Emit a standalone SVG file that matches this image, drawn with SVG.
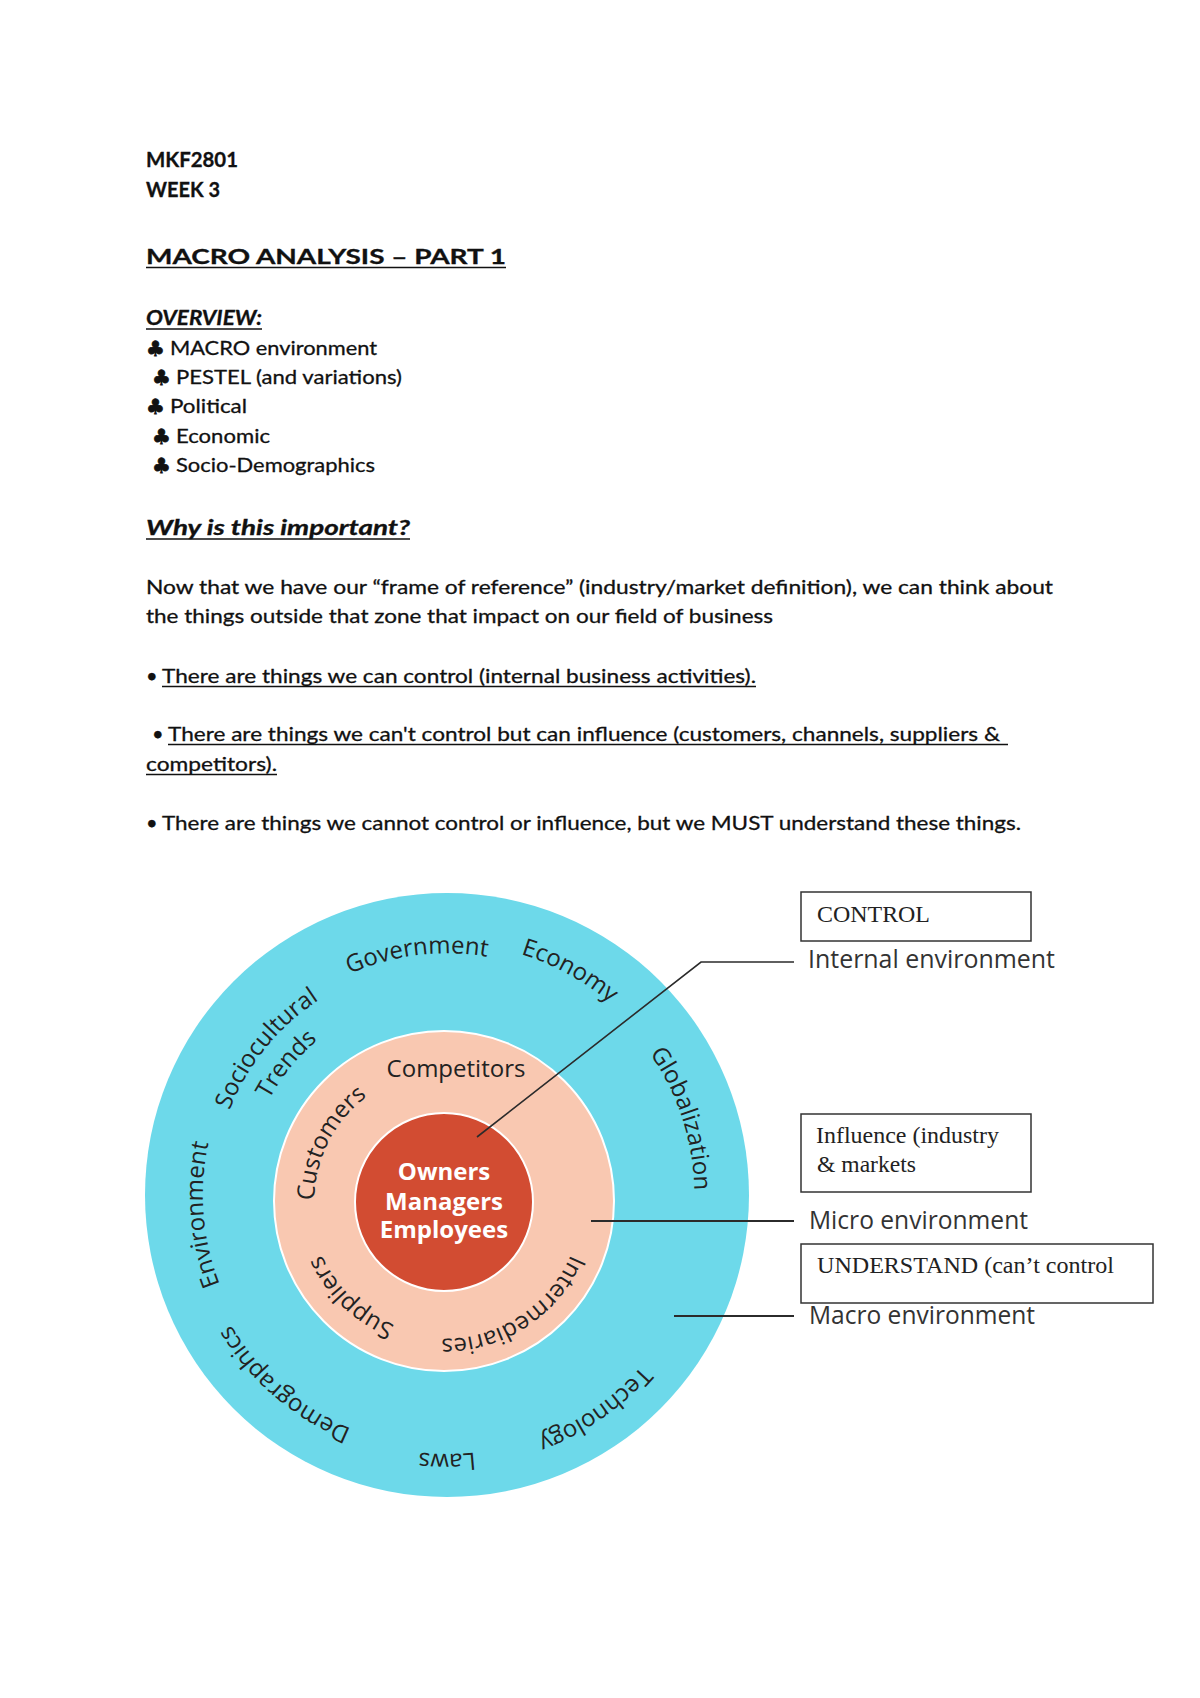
<svg xmlns="http://www.w3.org/2000/svg" width="1200" height="1698" viewBox="0 0 1200 1698">
<style>
.b{font-family:Lato,"Liberation Sans",sans-serif;font-size:20px;fill:#111;stroke:#111;stroke-width:0.3}
.bb{font-weight:bold}
.it{font-style:italic}
.club{font-family:"DejaVu Sans",sans-serif;font-size:21px;fill:#111;stroke:#111;stroke-width:0.8}
.ring{font-family:"Open Sans",sans-serif;font-size:24px;fill:#222}
.core{font-family:"Open Sans",sans-serif;font-size:24px;font-weight:bold;fill:#fff;text-anchor:middle}
.lbl{font-family:"Open Sans",sans-serif;font-size:25px;fill:#333}
.ser{font-family:"Liberation Serif",serif;font-size:23px;fill:#222}
.box{fill:#fff;stroke:#333;stroke-width:1.5}
.ul{stroke:#111;stroke-width:1.6}
.con{fill:none;stroke:#2b2b2b}
</style>
<defs>
<path id="pGov" d="M205.2,1203.9 A242,242 0 0 1 683.6,1144.3"/>
<path id="pEco" d="M237.3,1055.2 A252,252 0 0 1 677.7,1296.3"/>
<path id="pGlo" d="M391.4,954.3 A247,247 0 0 1 543.5,1422.4"/>
<path id="pTec" d="M672.2,1067.1 A259,259 0 0 1 247.4,1360.1"/>
<path id="pLaw" d="M705,1217.6 A259,259 0 0 1 189,1217.6"/>
<path id="pDem" d="M621.9,1374.2 A250,250 0 0 1 244,1049.1"/>
<path id="pEnv" d="M445.3,1439 A244,244 0 0 1 406.3,954.4"/>
<path id="pSoc" d="M285.1,1362.6 A233,233 0 0 1 577.3,1001.8"/>
<path id="pTre" d="M306.2,1339.8 A202,202 0 0 1 560.5,1027.9"/>
<path id="pCus" d="M384.5,1317.7 A131,131 0 0 1 503.5,1084.3"/>
<path id="pSup" d="M531.9,1302.1 A134,134 0 0 1 339.9,1116.7"/>
<path id="pInt" d="M565.8,1136.2 A138,138 0 0 1 335.3,1286"/>
</defs>
<rect width="1200" height="1698" fill="#fff"/>

<g id="header">
<text class="b bb" x="146" y="167" textLength="92" lengthAdjust="spacingAndGlyphs">MKF2801</text>
<text class="b bb" x="146" y="197" textLength="74" lengthAdjust="spacingAndGlyphs">WEEK 3</text>
<text class="b bb" x="146" y="264" font-size="26" textLength="360" lengthAdjust="spacingAndGlyphs">MACRO ANALYSIS – PART 1</text>
<line class="ul" x1="146" y1="267.5" x2="506" y2="267.5" stroke-width="2"/>
</g>

<g id="overview">
<text class="b bb it" x="146" y="325" textLength="116" lengthAdjust="spacingAndGlyphs">OVERVIEW:</text>
<line class="ul" x1="146" y1="329" x2="262" y2="329"/>
<text class="club" x="146" y="356">♣︎</text>
<text class="b" x="170" y="355" textLength="207" lengthAdjust="spacingAndGlyphs">MACRO environment</text>
<text class="club" x="152" y="385">♣︎</text>
<text class="b" x="176" y="384" textLength="226" lengthAdjust="spacingAndGlyphs">PESTEL (and variations)</text>
<text class="club" x="146" y="414">♣︎</text>
<text class="b" x="170" y="413" textLength="77" lengthAdjust="spacingAndGlyphs">Political</text>
<text class="club" x="152" y="444">♣︎</text>
<text class="b" x="176" y="443" textLength="94" lengthAdjust="spacingAndGlyphs">Economic</text>
<text class="club" x="152" y="473">♣︎</text>
<text class="b" x="176" y="472" textLength="199" lengthAdjust="spacingAndGlyphs">Socio-Demographics</text>
</g>

<g id="why">
<text class="b bb it" x="146" y="535" textLength="264" lengthAdjust="spacingAndGlyphs">Why is this important?</text>
<line class="ul" x1="146" y1="539" x2="410" y2="539"/>
<text class="b" x="146" y="594" textLength="907" lengthAdjust="spacingAndGlyphs">Now that we have our “frame of reference” (industry/market definition), we can think about</text>
<text class="b" x="146" y="623" textLength="627" lengthAdjust="spacingAndGlyphs">the things outside that zone that impact on our field of business</text>
<text class="b" x="146" y="683">•</text>
<text class="b" x="162" y="683" textLength="594" lengthAdjust="spacingAndGlyphs">There are things we can control (internal business activities).</text>
<line class="ul" x1="162" y1="686.5" x2="756" y2="686.5"/>
<text class="b" x="152" y="741">•</text>
<text class="b" x="168" y="741" textLength="832" lengthAdjust="spacingAndGlyphs">There are things we can't control but can influence (customers, channels, suppliers &amp;</text>
<line class="ul" x1="168" y1="744.5" x2="1008" y2="744.5"/>
<text class="b" x="146" y="771" textLength="131" lengthAdjust="spacingAndGlyphs">competitors).</text>
<line class="ul" x1="146" y1="774.5" x2="277" y2="774.5"/>
<text class="b" x="146" y="830">•</text>
<text class="b" x="162" y="830" textLength="859" lengthAdjust="spacingAndGlyphs">There are things we cannot control or influence, but we MUST understand these things.</text>
</g>

<g id="macro-ring">
<circle cx="447" cy="1195" r="302" fill="#6DD9EA"/>
<text class="ring"><textPath href="#pGov" startOffset="50%" text-anchor="middle">Government</textPath></text>
<text class="ring"><textPath href="#pEco" startOffset="50%" text-anchor="middle">Economy</textPath></text>
<text class="ring"><textPath href="#pGlo" startOffset="50%" text-anchor="middle">Globalization</textPath></text>
<text class="ring"><textPath href="#pTec" startOffset="50%" text-anchor="middle">Technology</textPath></text>
<text class="ring"><textPath href="#pLaw" startOffset="50%" text-anchor="middle">Laws</textPath></text>
<text class="ring"><textPath href="#pDem" startOffset="50%" text-anchor="middle">Demographics</textPath></text>
<text class="ring"><textPath href="#pEnv" startOffset="50%" text-anchor="middle">Environment</textPath></text>
<text class="ring"><textPath href="#pSoc" startOffset="50%" text-anchor="middle">Sociocultural</textPath></text>
<text class="ring"><textPath href="#pTre" startOffset="50%" text-anchor="middle">Trends</textPath></text>
</g>

<g id="micro-ring">
<circle cx="444" cy="1201" r="170" fill="#F9C8B1" stroke="#fff" stroke-width="2"/>
<text class="ring" x="456" y="1077" text-anchor="middle">Competitors</text>
<text class="ring"><textPath href="#pCus" startOffset="50%" text-anchor="middle">Customers</textPath></text>
<text class="ring"><textPath href="#pSup" startOffset="50%" text-anchor="middle">Suppliers</textPath></text>
<text class="ring"><textPath href="#pInt" startOffset="50%" text-anchor="middle">Intermediaries</textPath></text>
</g>

<g id="internal-core">
<circle cx="444" cy="1202" r="89" fill="#D24C32" stroke="#fff" stroke-width="2"/>
<text class="core" x="444" y="1180">Owners</text>
<text class="core" x="444" y="1210">Managers</text>
<text class="core" x="444" y="1238">Employees</text>
</g>

<g id="connectors">
<polyline class="con" stroke-width="1.6" points="477,1137 701,962 794,962"/>
<line class="con" stroke-width="2.2" x1="591" y1="1221" x2="794" y2="1221"/>
<line class="con" stroke-width="2.2" x1="674" y1="1316" x2="794" y2="1316"/>
</g>

<g id="control-box">
<rect class="box" x="801" y="892" width="230" height="49"/>
<text class="ser" x="817" y="922" textLength="113" lengthAdjust="spacingAndGlyphs">CONTROL</text>
</g>
<g id="internal-label">
<text class="lbl" x="808" y="968" textLength="247" lengthAdjust="spacingAndGlyphs">Internal environment</text>
</g>
<g id="influence-box">
<rect class="box" x="801" y="1114" width="230" height="78"/>
<text class="ser" x="816" y="1143" textLength="183" lengthAdjust="spacingAndGlyphs">Influence (industry</text>
<text class="ser" x="817" y="1172" textLength="99" lengthAdjust="spacingAndGlyphs">&amp; markets</text>
</g>
<g id="micro-label">
<text class="lbl" x="809" y="1229" textLength="219" lengthAdjust="spacingAndGlyphs">Micro environment</text>
</g>
<g id="understand-box">
<rect class="box" x="801" y="1244" width="352" height="59"/>
<text class="ser" x="817" y="1273" textLength="297" lengthAdjust="spacingAndGlyphs">UNDERSTAND (can’t control</text>
</g>
<g id="macro-label">
<text class="lbl" x="809" y="1324" textLength="226" lengthAdjust="spacingAndGlyphs">Macro environment</text>
</g>
</svg>
